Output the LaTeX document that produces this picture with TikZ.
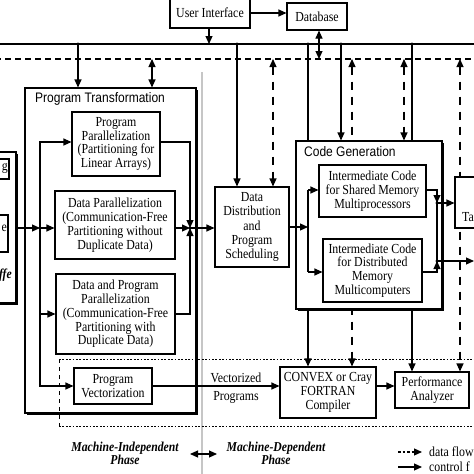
\documentclass[tikz,border=0pt]{standalone}
\usepackage{fontspec}
\setmainfont{Liberation Serif}[FakeStretch=0.86]
\setsansfont{Liberation Sans}[FakeStretch=0.87]
\usetikzlibrary{arrows.meta,shadows,backgrounds}
\begin{document}
\begin{tikzpicture}[x=1pt,y=-1pt,
  tip/.tip={Triangle[length=8pt,width=7pt]},
  ln/.style={line width=1.1pt},
  arr/.style={line width=1.1pt,-tip},
  darr/.style={line width=1.1pt,tip-tip},
  dflow/.style={line width=1.1pt,dash pattern=on 8pt off 7pt},
  box/.style={draw,line width=1.1pt,fill=white,inner sep=0pt,align=center,
    font=\fontsize{13.8}{13.8}\selectfont},
  sh/.style={drop shadow={shadow xshift=2.3pt,shadow yshift=-2.3pt,opacity=1,fill=black}},
  ttl/.style={font=\sffamily\fontsize{13.8}{13.8}\selectfont,anchor=west,inner sep=0pt},
  lbl/.style={font=\fontsize{13.8}{13.8}\selectfont,inner sep=0pt},
  phase/.style={font=\bfseries\itshape\fontsize{13.6}{13.2}\selectfont,align=center,inner sep=0pt},
  dot/.style={circle,fill=black,inner sep=0pt,minimum size=3.2pt}]
\useasboundingbox (0,0) rectangle (474,474);

% buses
\draw[ln] (-5,44) -- (480,44);
\draw[ln,dash pattern=on 6pt off 4pt] (-5,59) -- (480,59);

% gray phase separator
\draw[line width=1.3pt,gray!45] (202,72) -- (202,480);

% top boxes
\node[box,minimum width=80pt,minimum height=30pt] (ui) at (210,13) {User Interface};
\node[box,minimum width=60pt,minimum height=27pt] (db) at (317,16.5) {Database};

% left (cut) box
\node[box,sh,minimum width=56pt,minimum height=151pt] (lb) at (-12,227.5) {};
\node[box,minimum width=49pt,minimum height=20pt] (lb1) at (-15.5,169) {};
\node[box,minimum width=48pt,minimum height=37pt] (lb2) at (-16,233.5) {};
\node[lbl,anchor=east] (lg) at (8,168) {g};
\node[lbl,anchor=east] (le) at (7,228) {e};
\node[phase,anchor=east] (lf) at (12,275) {ffe};

% program transformation
\node[box,sh,minimum width=171pt,minimum height=325pt] (pt) at (110.5,250.5) {};
\node[ttl] (ptt) at (35,99) {Program Transformation};
\node[box,minimum width=88pt,minimum height=64pt] (pp) at (116,144) {Program\\Parallelization\\(Partitioning for\\Linear Arrays)};
\node[box,minimum width=120pt,minimum height=68pt] (dp) at (115,225) {Data Parallelization\\(Communication-Free\\Partitioning without\\Duplicate Data)};
\node[box,minimum width=119pt,minimum height=80pt] (dpp) at (115.5,314) {Data and Program\\Parallelization\\(Communication-Free\\Partitioning with\\Duplicate Data)};
\node[box,minimum width=78pt,minimum height=36pt] (pv) at (113,386) {Program\\Vectorization};

% data distribution
\node[box,minimum width=74pt,minimum height=80pt,font=\fontsize{13.8}{14.4}\selectfont] (dd) at (252,227) {Data\\Distribution\\and\\Program\\Scheduling};

% lower boxes
\node[box,minimum width=96pt,minimum height=51pt] (cv) at (328,392.5) {CONVEX or Cray\\FORTRAN\\Compiler};
\node[box,minimum width=74pt,minimum height=36pt] (pa) at (432,390) {Performance\\Analyzer};

% target (cut) box
\node[box,minimum width=40pt,minimum height=51pt] (ta) at (475,202.5) {};
\node[lbl,anchor=west] (tat) at (462,217) {Ta};

% lines behind code generation box
\coordinate (s308) at (308,44);
\coordinate (s412) at (412,44);
\coordinate (d352) at (352,59);
\coordinate (d460) at (460,59);
\draw[arr] (s308) -- (s308 |- cv.north);
\draw[arr] (s412) -- (s412 |- pa.north);
\draw[dflow,tip-tip] (d352) -- (d352 |- cv.north);
\begin{scope}[on background layer]
\draw[dflow,tip-tip] (d460) -- (d460 |- pa.north);
\end{scope}

% code generation
\node[box,sh,minimum width=146pt,minimum height=168pt] (cg) at (369,225) {};
\node[ttl] (cgt) at (304,152) {Code Generation};
\node[box,minimum width=107pt,minimum height=52pt] (ics) at (372.5,191) {Intermediate Code\\for Shared Memory\\Multiprocessors};
\node[box,minimum width=99pt,minimum height=63pt] (icd) at (372.5,270.5) {Intermediate Code\\for Distributed\\Memory\\Multicomputers};

% bus taps
\coordinate (s78) at (78,44);
\coordinate (s237) at (237,44);
\coordinate (s341) at (341,44);
\coordinate (d152) at (152,59);
\coordinate (d273) at (273,59);
\coordinate (d404) at (404,59);
\node[dot] at (s78) {};
\node[dot] at (s237) {};
\node[dot] at (s308) {};
\node[dot] at (s341) {};
\node[dot] at (s412) {};

% top connections
\draw[arr] (ui.south -| 209,0) -- (209,44);
\draw[arr] (ui.east) -- (ui.east -| db.west);
\draw[darr] (db.south -| 319,0) -- (319,59);
\draw[arr] (s78) -- (s78 |- pt.north);
\draw[darr] (d152) -- (d152 |- pt.north);
\draw[arr] (s237) -- (s237 |- dd.north);
\draw[dflow,tip-tip] (d273) -- (d273 |- dd.north);
\draw[arr] (s341) -- (s341 |- cg.north);
\draw[dflow,tip-tip] (d404) -- (d404 |- cg.north);

% inside program transformation
\coordinate (jl) at (40,228);
\coordinate (jr) at (190,228);
\draw[arr] (lb.east |- jl) -- (jl);
\node[dot] at (jl) {};
\draw[arr] (jl) -- (jl -| dp.west);
\draw[arr] (jl) |- (pp.west |- 0,142);
\draw[arr] (jl) |- (dpp.west);
\draw[arr] (jl) |- (pv.west);
\draw[arr] (pp.east |- 0,142) -| (jr);
\draw[arr] (dpp.east) -| (jr);
\draw[arr] (dp.east |- jr) -- (jr);
\node[dot] at (jr) {};
\draw[arr] (jr) -- (jr -| dd.west);

% inside code generation
\coordinate (jc) at (308,227);
\draw[arr] (dd.east |- jc) -- (jc);
\draw[ln] (jc) -- (308,190);
\draw[ln] (jc) -- (308,272);
\draw[arr] (308,190) -- (ics.west |- 0,190);
\draw[arr] (308,272) -- (icd.west |- 0,272);
\coordinate (jo) at (437,203);
\coordinate (jo2) at (437,261);
\draw[arr] (ics.east |- 0,190) -- (437,190) -- (jo);
\draw[arr] (icd.east |- 0,272) -- (437,272) -- (jo2);
\draw[ln] (437,190) -- (437,272);
\node[dot] at (jo) {};
\node[dot] at (jo2) {};
\draw[arr] (jo) -- (jo -| ta.west);
\coordinate (edge) at (474,261);
\draw[arr] (jo2) -- (edge);

% vectorized programs
\draw[arr] (pv.east) -- (pv.east -| cv.west);
\node[lbl] (vt1) at (236,378) {Vectorized};
\node[lbl] (vt2) at (236,397) {Programs};
\draw[arr] (cv.east |- pv.east) -- (pa.west |- pv.east);

% dotted machine-dependent frame
\draw[line width=1pt,dash pattern=on 1.8pt off 1.6pt] (59,359) -- (480,359);
\draw[line width=1pt,dash pattern=on 1.8pt off 1.6pt] (59,426) -- (480,426);
\draw[line width=0.8pt,dash pattern=on 4pt off 4pt] (59,359) -- (59,426);

% phase labels
\node[phase] (mi) at (125,453.5) {Machine-Independent\\Phase};
\node[phase] (md) at (276,453.5) {Machine-Dependent\\Phase};
\coordinate (pl) at (190,454);
\coordinate (pr) at (217,454);
\draw[darr] (pl) -- (pr);

% legend
\coordinate (l1a) at (398,452);
\coordinate (l1b) at (422,452);
\coordinate (l2a) at (398,467);
\coordinate (l2b) at (422,467);
\draw[arr,dash pattern=on 2.5pt off 2pt] (l1a) -- (l1b);
\draw[arr] (l2a) -- (l2b);
\node[lbl,anchor=west] (lt1) at (429,452) {data flow};
\node[lbl,anchor=west] (lt2) at (429,467) {control f};
\end{tikzpicture}
\end{document}
